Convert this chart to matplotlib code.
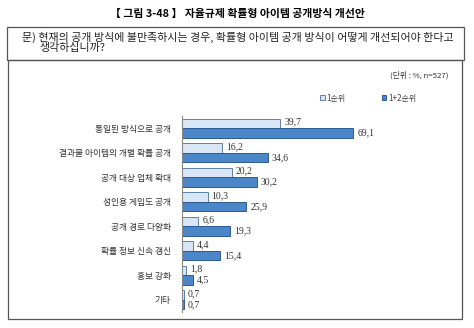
import numpy as np
import matplotlib.pyplot as plt
from matplotlib.patches import Rectangle

plt.rcParams['font.family'] = ['Noto Sans CJK KR', 'DejaVu Sans']

categories = ["통일된 방식으로 공개", "결과물 아이템의 개별 확률 공개", "공개 대상 업체 확대",
              "성인용 게임도 공개", "공개 경로 다양화", "확률 정보 신속 갱신", "홍보 강화", "기타"]
rank1 = [39.7, 16.2, 20.2, 10.3, 6.6, 4.4, 1.8, 0.7]
rank12 = [69.1, 34.6, 30.2, 25.9, 19.3, 15.4, 4.5, 0.7]
series_names = ["1순위", "1+2순위"]

W, H = 474, 328
fig = plt.figure(figsize=(W / 100, H / 100), dpi=100)


def px(x, y):
    return x / W, 1 - y / H


# title and question boxes
fig.text(*px(237, 14), "【 그림 3-48 】 자율규제 확률형 아이템 공개방식 개선안",
         ha='center', va='center', fontsize=7.8, fontweight='bold')
fig.patches.append(Rectangle(px(7, 60), 457 / W, 33 / H, transform=fig.transFigure,
                             fill=False, ec='#555555', lw=0.9))
fig.patches.append(Rectangle(px(8, 319), 454 / W, 259 / H, transform=fig.transFigure,
                             fill=False, ec='#555555', lw=0.9))
fig.text(*px(22, 37), "문) 현재의 공개 방식에 불만족하시는 경우, 확률형 아이템 공개 방식이 어떻게 개선되어야 한다고",
         ha='left', va='center', fontsize=7.9, color='#222222')
fig.text(*px(39, 47.5), "생각하십니까?", ha='left', va='center', fontsize=7.9, color='#222222')
fig.text(*px(448, 75), "(단위 : %, n=527)", ha='right', va='center', fontsize=5.6, color='#333333')

# bar chart
ax = fig.add_axes([182 / W, 1 - 312 / H, 280 / W, 196 / H])
y = np.arange(len(categories))
h = 0.38
light, dark = '#d9e6f5', '#4a86c8'
b1 = ax.barh(y - h / 2, rank1, height=h, color=light, edgecolor='#5b7fae', lw=0.7, label=series_names[0])
b2 = ax.barh(y + h / 2, rank12, height=h, color=dark, edgecolor='#2c5a92', lw=0.7, label=series_names[1])

for bars, vals, dy in [(b1, rank1, -0.06), (b2, rank12, 0.0)]:
    for bar, v in zip(bars, vals):
        ax.text(v + 1.6, bar.get_y() + bar.get_height() / 2 + dy, f"{v:.1f}".replace('.', ','),
                ha='left', va='center', fontsize=7, family='Liberation Serif', color='#333333')

ax.set_ylim(7.5, -0.5)
ax.set_xlim(0, 113)
ax.set_yticks(y)
ax.set_yticklabels(categories, fontsize=6.3, color='#333333')
ax.tick_params(axis='y', length=0, pad=8)
ax.set_xticks([])
for s in ['top', 'right', 'bottom']:
    ax.spines[s].set_visible(False)
ax.spines['left'].set_color('#888888')
ax.spines['left'].set_linewidth(0.8)

leg = fig.legend(handles=[b1, b2], labels=series_names, loc='center', bbox_to_anchor=px(368, 98),
                 ncol=2, frameon=False, fontsize=5.8, handlelength=0.6, handleheight=0.6,
                 handletextpad=0.2, columnspacing=4.5)
for t in leg.get_texts():
    t.set_color('#444444')

fig.savefig("out.png", dpi=100)
